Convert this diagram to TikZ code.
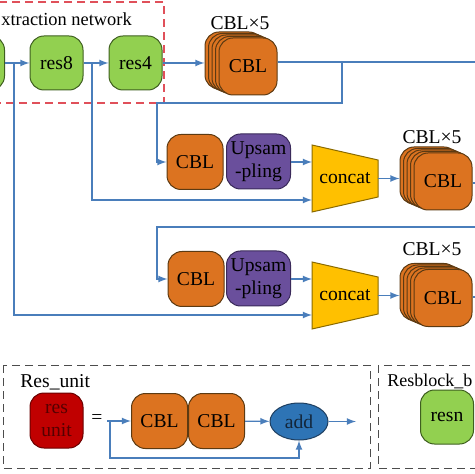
\documentclass[tikz,border=0pt]{standalone}
\usepackage{fontspec}
\setmainfont{Liberation Serif}
\usetikzlibrary{shapes,arrows}
\usetikzlibrary{calc,positioning}

\definecolor{lnk}{HTML}{4A7EBB}
\definecolor{resgreen}{HTML}{92D050}
\definecolor{resgreenD}{HTML}{3F5F20}
\definecolor{cblorange}{HTML}{DC7320}
\definecolor{cblD}{HTML}{5C3A12}
\definecolor{upsp}{HTML}{6A4F9C}
\definecolor{upspD}{HTML}{3A2A5A}
\definecolor{catyel}{HTML}{FFC000}
\definecolor{catD}{HTML}{8A6A00}
\definecolor{rured}{HTML}{C00000}
\definecolor{ruD}{HTML}{6A0000}
\definecolor{addblue}{HTML}{2E74B5}
\definecolor{addD}{HTML}{1F3F60}
\definecolor{netred}{HTML}{E0505A}

\begin{document}
\begin{tikzpicture}[x=0.5pt,y=-0.5pt,font=\fontsize{9.8}{11.5}\selectfont]
    \tikzstyle{blk} = [rectangle, rounded corners=7pt, draw, line width=0.5pt, inner sep=0pt, align=center]
    \tikzstyle{res} = [blk, fill=resgreen, draw=resgreenD, minimum width=26.5pt, minimum height=27pt]
    \tikzstyle{cbl} = [blk, fill=cblorange, draw=cblD, minimum width=28pt, minimum height=27.5pt]
    \tikzstyle{card} = [blk, fill=cblorange, draw=cblD, minimum width=29pt, minimum height=28.5pt]
    \tikzstyle{ups} = [blk, fill=upsp, draw=upspD, minimum width=32pt, minimum height=27.5pt]
    \tikzstyle{cat} = [fill=catyel, draw=catD, line width=0.5pt]
    \tikzstyle{resred} = [blk, fill=rured, draw=ruD, text=ruD!80!black, minimum width=26.5pt, minimum height=27.5pt]
    \tikzstyle{addnode} = [ellipse, fill=addblue, draw=addD, line width=0.5pt, text=addD!60!black, minimum width=29pt, minimum height=18.5pt, inner sep=0pt]
    \tikzstyle{link} = [draw=lnk, line width=0.6pt]
    \tikzstyle{netbox} = [draw=netred, line width=0.7pt, dash pattern=on 4pt off 2.5pt]
    \tikzstyle{legbox} = [draw=black!70, line width=0.5pt, dash pattern=on 4pt off 2.5pt]

    \useasboundingbox (0,0) rectangle (474,474);

    % Feature extraction .........................
    \draw[netbox] (-10,2) rectangle (164,103);
    \node[anchor=west, inner sep=0pt, font=\fontsize{9.2}{10}\selectfont] (lnet) at (1,19) {xtraction network};
    \node[res] (g0) at (-22,63) {};
    \node[res] (res8) at (56.5,63) {res8};
    \node[res] (res4) at (135.5,63) {res4};

    % CBL stacks
    \foreach \k in {4,3,2,1}
        \node[card] (stka\k) at ($(248,66.5)+(-3.5*\k,-1.5*\k)$) {};
    \node[card] (stka) at (248,66.5) {CBL};
    \node (laba) at (240,23) {CBL×5};

    \foreach \k in {4,3,2,1}
        \node[card] (stkb\k) at ($(443,181.5)+(-3.5*\k,-1.5*\k)$) {};
    \node[card] (stkb) at (443,181.5) {CBL};
    \node (labb) at (432,137) {CBL×5};

    \foreach \k in {4,3,2,1}
        \node[card] (stkc\k) at ($(443,298)+(-3.5*\k,-1.5*\k)$) {};
    \node[card] (stkc) at (443,298) {CBL};
    \node (labc) at (432,249) {CBL×5};

    % upsampling rows
    \node[cbl] (cblb) at (195,162) {CBL};
    \node[ups] (upb) at (258.5,161.5) {Upsam\\-pling};
    \draw[cat] (312,145) -- (378,160) -- (378,197) -- (312,212) -- cycle;
    \node (catb) at (345,178.5) {concat};

    \node[cbl] (cblc) at (196,279) {CBL};
    \node[ups] (upc) at (258.5,278.5) {Upsam\\-pling};
    \draw[cat] (312,262) -- (378,277) -- (378,314) -- (312,329) -- cycle;
    \node (catc) at (345,295.5) {concat};

    \coordinate (tap1) at (14,63);
    \coordinate (tap2) at (92,63);
    \coordinate (br1) at (342,62);
    \coordinate (oa) at (480,62);
    \coordinate (ob) at (480,183);
    \coordinate (ob2) at (480,227);
    \coordinate (oc) at (480,297);
    \coordinate (ib1) at (312,162);
    \coordinate (ib2) at (312,200);
    \coordinate (ic1) at (312,279);
    \coordinate (ic2) at (312,315);
    \coordinate (ob1) at (378,178.5);
    \coordinate (oc1) at (378,295.5);

    \draw[link,-latex] (g0) -- (res8);
    \draw[link,-latex] (res8) -- (res4);
    \draw[link,-latex] (res4) -- (res4 -| stka4.west);
    \draw[link] (stka.east |- oa) -- (oa);
    \draw[link,-latex] (br1) |- (157,103) |- (cblb.west);
    \draw[link,-latex] (tap2) |- (ib2);
    \draw[link,-latex] (tap1) |- (ic2);
    \draw[link,-latex] (upb.east |- ib1) -- (ib1);
    \draw[link,-latex] (ob1) -- (ob1 -| stkb4.west);
    \draw[link] (stkb.east |- ob) -- (ob);
    \draw[link,-latex] (ob2) -- (157,227) |- (cblc.west);
    \draw[link,-latex] (upc.east |- ic1) -- (ic1);
    \draw[link,-latex] (oc1) -- (oc1 -| stkc4.west);
    \draw[link] (stkc.east |- oc) -- (oc);

    % Legend .........................
    \draw[legbox] (3,365) rectangle (370,468);
    \draw[legbox] (378,365) rectangle (490,468);
    \node[anchor=west, inner sep=0pt] (lru) at (20,382) {Res\_unit};
    \node[resred] (ru) at (56.5,420.5) {res\\unit};
    \node (eq) at (97,419) {=};
    \node[cbl] (la) at (159.5,421) {CBL};
    \node[cbl, right=0pt of la] (lb) {CBL};
    \node[addnode] (add) at (299,421.5) {add};
    \coordinate (s0) at (107,421);
    \coordinate (s1) at (110,421);
    \coordinate (lout) at (356,421.5);
    \draw[link,-latex] (s0) -- (la);
    \draw[link,-latex] (s1) -- (110,458) -| (add.south);
    \draw[link,-latex] (lb) -- (add);
    \draw[link,-latex] (add) -- (lout);

    \node[anchor=west, inner sep=0pt, font=\fontsize{9}{11}\selectfont] (lrb) at (387,381) {Resblock\_b};
    \node[res] (resn) at (447,417) {resn};
\end{tikzpicture}
\end{document}
